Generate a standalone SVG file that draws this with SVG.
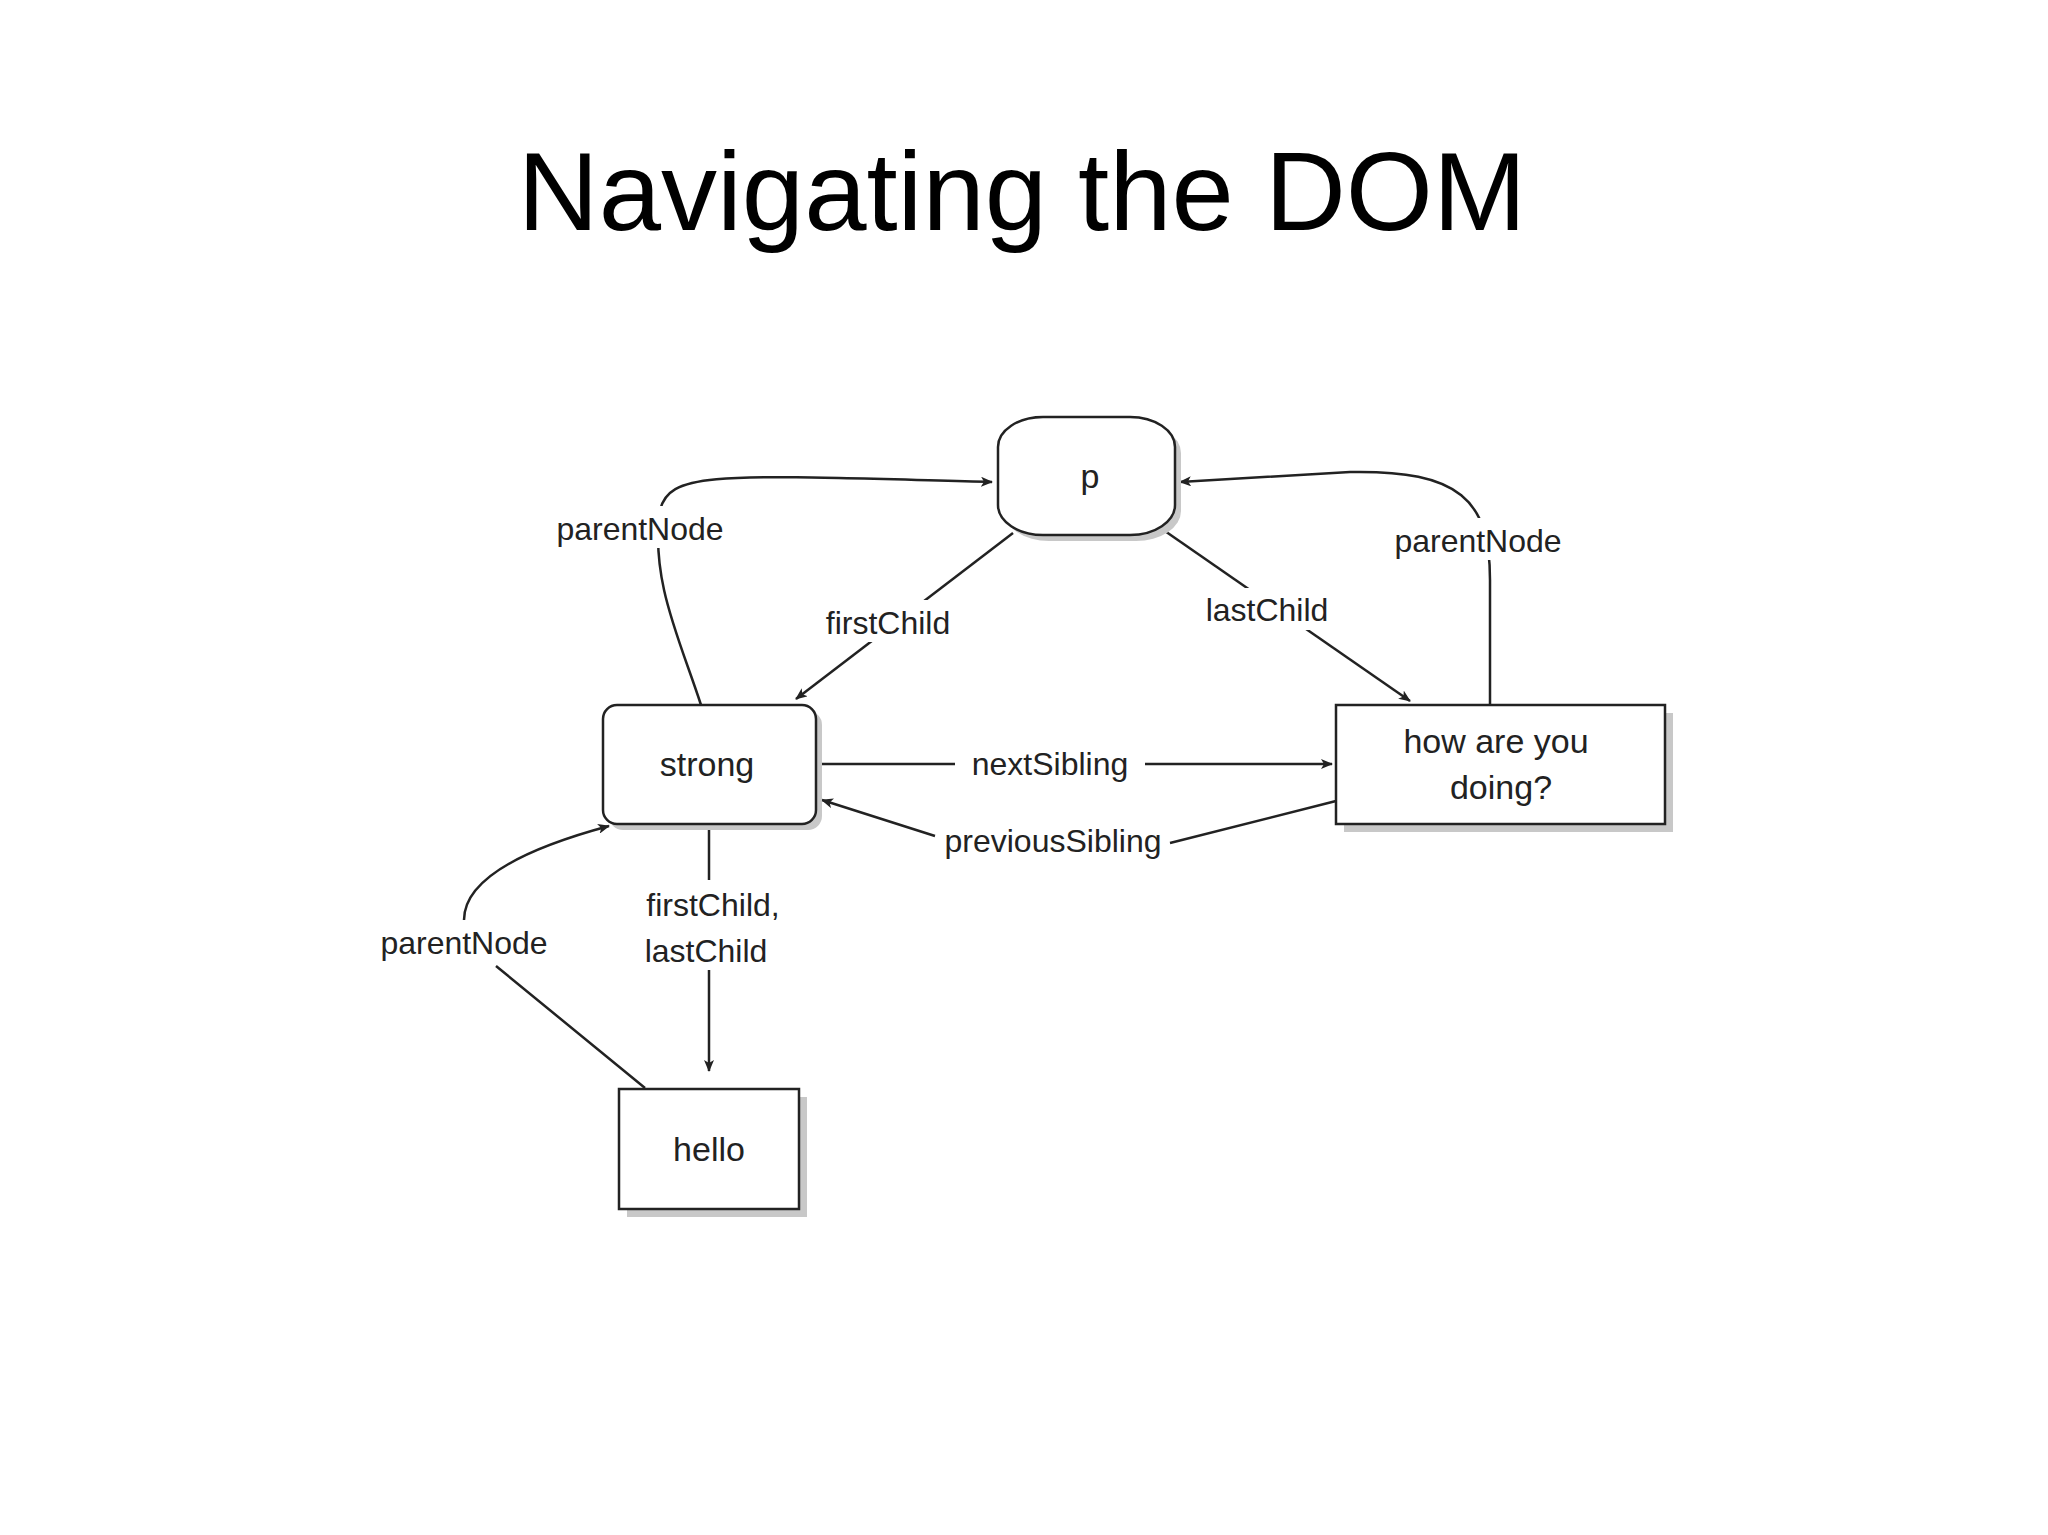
<svg xmlns="http://www.w3.org/2000/svg" width="2048" height="1535" viewBox="0 0 2048 1535">
<style>
.n{fill:#fff;stroke:#222;stroke-width:2.5}
.sh{fill:#c8c8c8}
.t{font-family:"Liberation Sans",Arial,sans-serif;font-size:34px;fill:#222;text-anchor:middle}
.l{font-family:"Liberation Sans",Arial,sans-serif;font-size:32px;fill:#222;text-anchor:middle}
.c{fill:none;stroke:#222;stroke-width:2.5}
.bg{fill:#fff}
</style>
<defs><marker id="a" viewBox="0 0 12 10" refX="11" refY="5" markerWidth="12" markerHeight="10" markerUnits="userSpaceOnUse" orient="auto"><path d="M0,0 L12,5 L0,10 L3,5 z" fill="#222"/></marker></defs>
<rect width="2048" height="1535" fill="#fff"/>
<text x="1022" y="230" font-family="Liberation Sans,Arial,sans-serif" font-size="112" text-anchor="middle" fill="#000">Navigating the DOM</text>
<g id="connectors">
<path class="c" d="M701,705 C680,640 650,580 660,510 C670,470 720,475 992,482" marker-end="url(#a)"/>
<path class="c" d="M1013,533 L796,699" marker-end="url(#a)"/>
<path class="c" d="M1162,529 L1410,701" marker-end="url(#a)"/>
<path class="c" d="M1490,705 L1490,580 C1490,500 1460,470 1350,472 L1180,482" marker-end="url(#a)"/>
<path class="c" d="M816,764 L1332,764" marker-end="url(#a)"/>
<path class="c" d="M1336,801 L1170,843 M935,836 L822,800" marker-end="url(#a)"/>
<path class="c" d="M709,824 L709,1071" marker-end="url(#a)"/>
<path class="c" d="M645,1088 L496,966 M464,920 C464,880 520,850 609,826" marker-end="url(#a)"/>
</g>
<g id="labels">
<rect class="bg" x="550" y="506" width="180" height="42"/><text class="l" x="640" y="540">parentNode</text>
<rect class="bg" x="815" y="600" width="146" height="42"/><text class="l" x="888" y="634">firstChild</text>
<rect class="bg" x="1200" y="588" width="134" height="42"/><text class="l" x="1267" y="621">lastChild</text>
<rect class="bg" x="1388" y="518" width="180" height="42"/><text class="l" x="1478" y="552">parentNode</text>
<rect class="bg" x="955" y="742" width="190" height="42"/><text class="l" x="1050" y="775">nextSibling</text>
<text class="l" x="1053" y="852">previousSibling</text>
<rect class="bg" x="630" y="880" width="160" height="90"/><text class="l" x="713" y="916">firstChild,</text><text class="l" x="706" y="962">lastChild</text>
<text class="l" x="464" y="954">parentNode</text>
</g>
<g id="p"><rect class="sh" x="1004" y="423" width="177" height="118" rx="45" ry="30"/><rect class="n" x="998" y="417" width="177" height="118" rx="45" ry="30"/><text class="t" x="1090" y="488">p</text></g>
<g id="strong"><rect class="sh" x="609" y="711" width="213" height="119" rx="14"/><rect class="n" x="603" y="705" width="213" height="119" rx="14"/><text class="t" x="707" y="776">strong</text></g>
<g id="how"><rect class="sh" x="1344" y="713" width="329" height="119"/><rect class="n" x="1336" y="705" width="329" height="119"/><text class="t" x="1496" y="753">how are you</text><text class="t" x="1501" y="799">doing?</text></g>
<g id="hello"><rect class="sh" x="627" y="1097" width="180" height="120"/><rect class="n" x="619" y="1089" width="180" height="120"/><text class="t" x="709" y="1161">hello</text></g>
</svg>
